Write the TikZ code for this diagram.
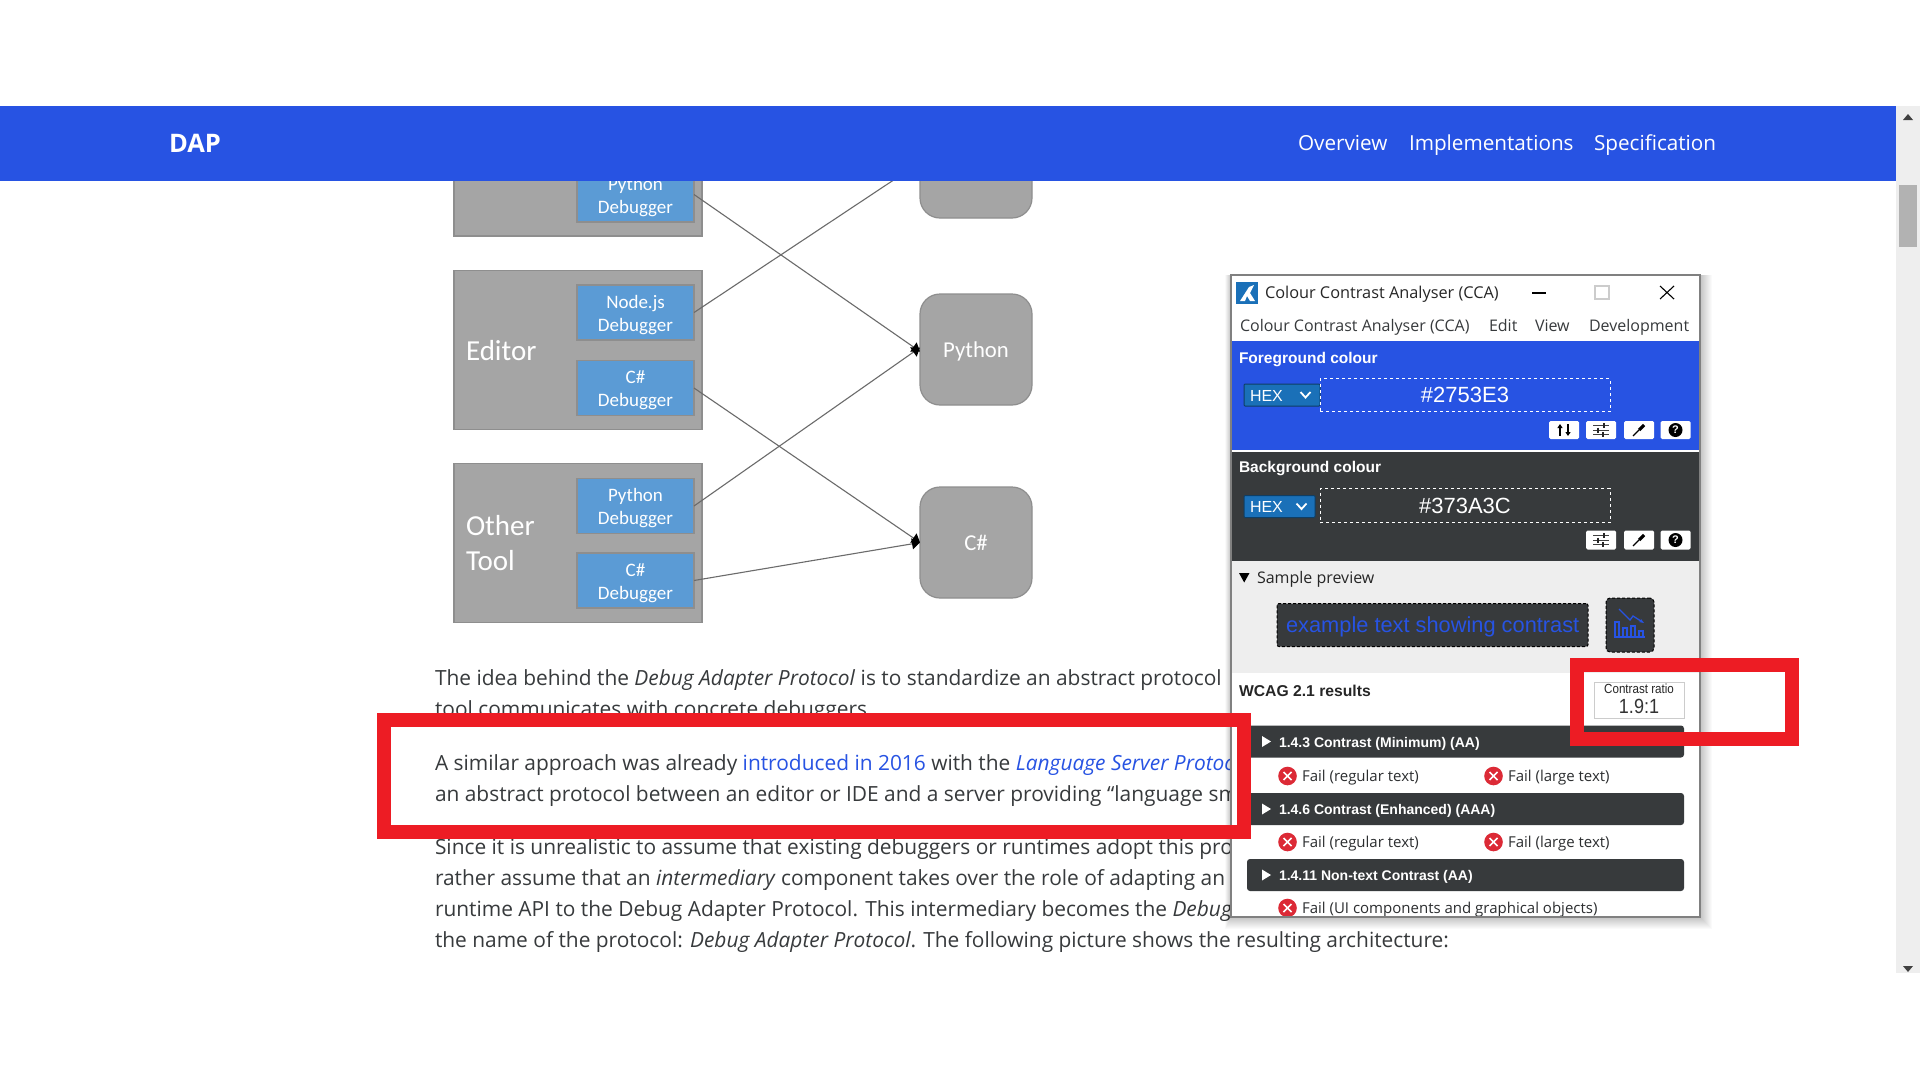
\documentclass[tikz,border=0pt]{standalone}
\usepackage{fontspec}
\usetikzlibrary{arrows.meta}
\setmainfont{Open Sans}
\newfontfamily\segf{Open Sans}
\newfontfamily\calf{Carlito}
\newfontfamily\arif{Liberation Sans}
\newfontfamily\arin[FakeStretch=0.88]{Liberation Sans}
\newcommand{\fs}[1]{\fontsize{#1}{#1}\selectfont}
\newcommand{\dbglab}[1]{\rule{0pt}{17.5pt}#1\\[4pt]Debugger}
\definecolor{navblue}{HTML}{2753E3}
\definecolor{darkbg}{HTML}{373A3C}
\definecolor{bodytxt}{HTML}{373A3C}
\definecolor{boxgrey}{HTML}{A5A5A5}
\definecolor{boxedge}{HTML}{8E8E8E}
\definecolor{dbgblue}{HTML}{5B9BD5}
\definecolor{hexblue}{HTML}{1A70B8}
\definecolor{redmark}{HTML}{ED1C24}
\definecolor{failred}{HTML}{DC2A36}
\definecolor{panel}{HTML}{EEEEEE}
\tikzset{
  every node/.style={inner sep=0pt,outer sep=0pt},
  hostbox/.style={draw=boxedge,fill=boxgrey,line width=1.2pt},
  dbgbox/.style={draw=boxedge,fill=dbgblue,line width=1.2pt,minimum width=117pt,minimum height=55pt,align=center,text=white,font=\calf\fs{19}},
  hostlabel/.style={anchor=west,text=white,font=\calf\fs{29},align=left},
  rtbox/.style={draw=boxedge,fill=boxgrey,rounded corners=20pt,line width=1.2pt,minimum width=112pt,minimum height=111pt,text=white,font=\calf\fs{22.7},text height=15pt,text depth=0pt},
  conn/.style={draw=black!58,line width=1.1pt,-{Triangle[length=8pt,width=11pt,fill=black,color=black]}},
  plainconn/.style={draw=black!58,line width=1.1pt},
  bodyline/.style={anchor=base west,text=bodytxt,font=\segf\fs{20.9}},
  navlink/.style={anchor=base west,text=white,font=\segf\fs{20.7}},
  hexsel/.style={draw=black!45!hexblue,fill=hexblue,line width=1pt,rounded corners=1pt,text=white,font=\arif\fs{16}},
  dashbox/.style={draw=white,dashed,line width=1pt,minimum width=290pt,text=white,font=\arif\fs{22}},
  iconbtn/.style={fill=white,rounded corners=1.5pt,minimum width=30pt},
  panelhead/.style={anchor=base west,text=white,font=\arif\bfseries\fs{15.5}},
  darkbar/.style={fill=darkbg,rounded corners=3pt,minimum width=437pt,minimum height=32pt},
  barlabel/.style={anchor=base west,text=white,font=\arif\bfseries\fs{14}},
  failtxt/.style={anchor=base west,text=bodytxt!80!black,font=\segf\fs{15}},
  menuitem/.style={anchor=base west,text=bodytxt,font=\segf\fs{16}},
  redbox/.style={draw=redmark,line width=14pt,fill=none},
}
\newcommand{\arrowright}[2]{\fill[white] (#1-4.5,#2-5.5) -- (#1+4.5,#2) -- (#1-4.5,#2+5.5) -- cycle;}
\newcommand{\chev}[2]{\draw[white,line width=1.8pt] (#1-5,#2-3) -- (#1,#2+2.5) -- (#1+5,#2-3);}
\newcommand{\failicon}[2]{\begin{scope}[shift={(#1,#2)}]\fill[failred] (0,0) circle (9.3);\draw[white,line width=1.7pt] (-4,-4) -- (4,4) (-4,4) -- (4,-4);\end{scope}}
\newcommand{\swapicon}[2]{\begin{scope}[shift={(#1,#2)}]\draw[black,line width=1.5pt,-{Triangle[length=4pt,width=5pt]}] (-4,6) -- (-4,-6);\draw[black,line width=1.5pt,-{Triangle[length=4pt,width=5pt]}] (4,-6) -- (4,6);\end{scope}}
\newcommand{\sliders}[2]{\begin{scope}[shift={(#1,#2)}]\draw[black!75,line width=1pt] (-8,-4.5) -- (8,-4.5) (-8,0) -- (8,0) (-8,4.5) -- (8,4.5);\draw[black!85,line width=1.8pt] (3,-7) -- (3,-2) (-3,-2.5) -- (-3,2.5) (2,2) -- (2,7);\end{scope}}
\newcommand{\dropper}[2]{\begin{scope}[shift={(#1,#2)}]\draw[black,line width=3.2pt] (0,0) -- (5,-5);\draw[black,line width=1.2pt] (0,0) -- (-6,6);\end{scope}}
\newcommand{\helpicon}[2]{\node[circle,fill=black,minimum size=14pt,text=white,font=\arif\bfseries\fs{11}] at (#1,#2) {?};}
\begin{document}
\begin{tikzpicture}[x=1pt,y=-1pt]
\useasboundingbox (0,0) rectangle (1920,1080);
\fill[white] (0,0) rectangle (1920,1080);
% diagram
\node[hostbox,minimum width=248pt,minimum height=126pt] (host1) at (578,173) {};
\node[hostbox,minimum width=248pt,minimum height=159pt] (host2) at (578,350) {};
\node[hostbox,minimum width=248pt,minimum height=159pt] (host3) at (578,543) {};
\node[dbgbox] (d1) at (635.5,194.5) {\dbglab{Python}};
\node[dbgbox] (d2) at (635.5,312.5) {\dbglab{Node.js}};
\node[dbgbox] (d3) at (635.5,388) {\dbglab{C\#}};
\node[dbgbox] (d4) at (635.5,506) {\dbglab{Python}};
\node[dbgbox] (d5) at (635.5,580.5) {\dbglab{C\#}};
\node[hostlabel] (l2) at (466,350.5) {Editor};
\node[hostlabel] (l3a) at (466,526) {Other};
\node[hostlabel] (l3b) at (466,561) {Tool};
\node[rtbox] (r1) at (976,162.5) {};
\node[rtbox] (r2) at (976,349.5) {Python};
\node[rtbox] (r3) at (976,542.5) {C\#};
\path[conn] (d1.east) -- ([yshift=-2pt]r2.west);
\path[conn] (d4.east) -- ([yshift=2pt]r2.west);
\path[conn] (d3.east) -- (r3.west);
\path[conn] (d5.east) -- (r3.west);
\path[plainconn] (d2.east) -- (r1.west);
% body text
\node[bodyline] (t1) at (435,685.5) {The idea behind the \textit{Debug Adapter Protocol} is to standardize an abstract protocol};
\node[bodyline] (t2) at (435,716) {tool communicates with concrete debuggers.};
\node[bodyline] (t3) at (435,770) {A similar approach was already \textcolor{navblue}{introduced in 2016} with the \textcolor{navblue}{\textit{Language Server Protoc}}};
\node[bodyline] (t4) at (435,801) {an abstract protocol between an editor or IDE and a server providing “language sm};
\node[bodyline] (t5) at (435,854.5) {Since it is unrealistic to assume that existing debuggers or runtimes adopt this prot};
\node[bodyline] (t6) at (435,885) {rather assume that an \textit{intermediary} component takes over the role of adapting an e};
\node[bodyline] (t7) at (435,916) {runtime API to the Debug Adapter Protocol. This intermediary becomes the \textit{Debug}};
\node[bodyline] (t8) at (435,947) {the name of the protocol: \textit{Debug Adapter Protocol}. The following picture shows the resulting architecture:};
% header
\fill[navblue] (0,106) rectangle (1896,181);
\node[anchor=base west,text=white,font=\segf\bfseries\fs{25.5}] (dap) at (169,152) {DAP};
\node[navlink] (n1) at (1298,150) {Overview};
\node[navlink] (n2) at (1409,150) {Implementations};
\node[navlink] (n3) at (1594,150) {Specification};
% scrollbar
\fill[panel] (1896,106) rectangle (1920,973);
\fill[black!30] (1899,185) rectangle (1917,247);
\fill[black!75] (1903,120) -- (1913,120) -- (1908,114) -- cycle;
\fill[black!75] (1903,966) -- (1913,966) -- (1908,972) -- cycle;
% window shadow
\foreach \o in {1,...,12}{\fill[black,opacity=.018] (1231-\o/2,275) rectangle (1700+\o,917+\o);}
% window
\fill[white] (1231,275) rectangle (1700,917);
\begin{scope}
\clip (1231,275) rectangle (1700,917);
\fill[hexblue] (1236,282) rectangle (1258,304);
\fill[white] (1240,301) -- (1249,287) -- (1254,285) -- (1250,293) -- (1255,301) -- (1250,301) -- (1247,296) -- (1245,301) -- cycle;
\node[anchor=base west,text=black!85,font=\segf\fs{16.3}] (title) at (1265,298) {Colour Contrast Analyser (CCA)};
\draw[black,line width=1.2pt] (1532,293) -- (1546,293);
\draw[black!20,line width=1.2pt] (1595,286) rectangle (1609,299);
\draw[black,line width=1.1pt] (1660,286) -- (1674,299) (1660,299) -- (1674,286);
\node[menuitem] (m1) at (1240,331) {Colour Contrast Analyser (CCA)};
\node[menuitem] (m2) at (1489,331) {Edit};
\node[menuitem] (m3) at (1535,331) {View};
\node[menuitem] (m4) at (1589,331) {Development};
% foreground
\fill[navblue] (1231,341) rectangle (1700,450);
\node[panelhead] (fg) at (1239,363) {Foreground colour};
\node[hexsel,minimum width=76pt,minimum height=22pt] (hex1) at (1282,395) {};
\node[anchor=base west,text=white,font=\arif\fs{16}] (hex1t) at (1250,401) {HEX};
\chev{1305.5}{395}
\node[dashbox,minimum height=33pt] (val1) at (1465,395) {\#2753E3};
\node[iconbtn,minimum height=18pt] (b1) at (1564,430) {};
\node[iconbtn,minimum height=18pt] (b2) at (1601,430) {};
\node[iconbtn,minimum height=18pt] (b3) at (1639,430) {};
\node[iconbtn,minimum height=18pt] (b4) at (1675.5,430) {};
\swapicon{1564}{430}\sliders{1601}{430}\dropper{1639}{430}\helpicon{1675.5}{430}
% background
\fill[darkbg] (1231,452) rectangle (1700,561);
\node[panelhead] (bg) at (1239,472.5) {Background colour};
\node[hexsel,minimum width=71pt,minimum height=22pt] (hex2) at (1279.5,506.5) {};
\node[anchor=base west,text=white,font=\arif\fs{16}] (hex2t) at (1250,512.5) {HEX};
\chev{1301.5}{506.5}
\node[dashbox,minimum height=34pt] (val2) at (1465,505.5) {\#373A3C};
\node[iconbtn,minimum height=19pt] (b5) at (1601,540) {};
\node[iconbtn,minimum height=19pt] (b6) at (1639,540) {};
\node[iconbtn,minimum height=19pt] (b7) at (1675.5,540) {};
\sliders{1601}{540}\dropper{1639}{540}\helpicon{1675.5}{540}
% sample
\fill[panel] (1231,561) rectangle (1700,673);
\fill[black] (1239,573) -- (1249.5,573) -- (1244.2,582.5) -- cycle;
\node[anchor=base west,text=black!85,font=\segf\fs{16}] (sp) at (1257,583.5) {Sample preview};
\node[draw=black,densely dashed,fill=darkbg,rounded corners=2pt,line width=1pt,minimum width=311pt,minimum height=43pt] (ex) at (1432.5,625) {};
\node[anchor=base,text=navblue,font=\arif\fs{21.8}] (extxt) at (1432.7,632.5) {example text showing contrast};
\node[draw=black,densely dashed,fill=darkbg,rounded corners=4pt,line width=1pt,minimum width=48pt,minimum height=54pt] (gb) at (1630,625) {};
\begin{scope}[navblue,line width=1.3pt]
\draw (1614,637) -- (1645,637);
\draw (1615,637) -- (1615,622) -- (1619,622) -- (1619,637);
\draw (1623,637) -- (1623,628) -- (1627,628) -- (1627,637);
\draw (1631,637) -- (1631,626) -- (1635,626) -- (1635,637);
\draw (1639,637) -- (1639,631) -- (1643,631) -- (1643,637);
\draw[-{Stealth[length=5pt]}] (1619,609) -- (1630,620) -- (1633,616) -- (1644,623);
\end{scope}
% results
\node[anchor=base west,text=black!85,font=\arif\bfseries\fs{15.7}] (wcag) at (1239,696) {WCAG 2.1 results};
\node[draw=black!20,fill=white,line width=1pt,minimum width=90pt,minimum height=36pt] (cr) at (1639,700) {};
\node[anchor=base,text=black!85,font=\arin\fs{13.2}] (crt) at (1639,693.5) {Contrast ratio};
\node[anchor=base,text=black!80,font=\arin\fs{20.5}] (crv) at (1639,713.5) {1.9:1};
\node[darkbar] (bar1) at (1465.5,741.5) {};
\arrowright{1266.5}{741.5}
\node[barlabel] (bt1) at (1279,747) {1.4.3 Contrast (Minimum) (AA)};
\failicon{1287.5}{776}
\node[failtxt] (f1) at (1302,781.5) {Fail (regular text)};
\failicon{1493.5}{776}
\node[failtxt] (f2) at (1508,781.5) {Fail (large text)};
\node[darkbar] (bar2) at (1465.5,809) {};
\arrowright{1266.5}{809}
\node[barlabel] (bt2) at (1279,814) {1.4.6 Contrast (Enhanced) (AAA)};
\failicon{1287.5}{842}
\node[failtxt] (f3) at (1302,847.5) {Fail (regular text)};
\failicon{1493.5}{842}
\node[failtxt] (f4) at (1508,847.5) {Fail (large text)};
\node[darkbar] (bar3) at (1465.5,875) {};
\arrowright{1266.5}{875}
\node[barlabel] (bt3) at (1279,880) {1.4.11 Non-text Contrast (AA)};
\failicon{1287.5}{908}
\node[failtxt] (f5) at (1302,913.5) {Fail (UI components and graphical objects)};
\end{scope}
\draw[black!50,line width=1.2pt] (1231,275) rectangle (1700,917);
% red marks
\draw[redbox] (384,719.7) rectangle (1244,832);
\draw[redbox] (1577,665) rectangle (1792,739);
\end{tikzpicture}
\end{document}
